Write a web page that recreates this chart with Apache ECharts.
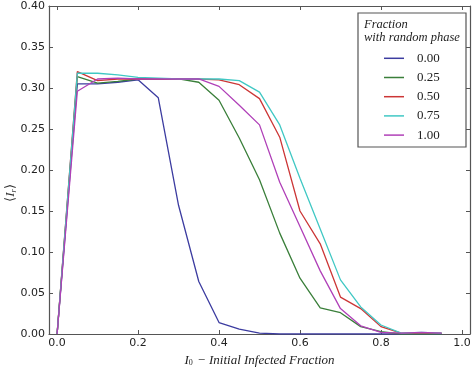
<!DOCTYPE html>
<html><head><meta charset="utf-8">
<script src="https://cdn.jsdelivr.net/npm/echarts@6/dist/echarts.min.js"></script>
<style>html,body{margin:0;padding:0;background:#fff}#c{width:474px;height:369px}</style>
</head><body><div id="c"></div>
<script>
const xValues = [0,0.05,0.1,0.15,0.2,0.25,0.3,0.35,0.4,0.45,0.5,0.55,0.6,0.65,0.7,0.75,0.8,0.85,0.9,0.95];
const seriesNames = ['0.00','0.25','0.50','0.75','1.00'];
const s000 = [0,0.305,0.305,0.307,0.310,0.288,0.157,0.064,0.014,0.006,0.001,0,0,0,0,0,0,0,0,0];
const s025 = [0,0.314,0.306,0.308,0.311,0.311,0.311,0.307,0.285,0.239,0.188,0.123,0.068,0.032,0.026,0.009,0.003,0,0,0];
const s050 = [0,0.320,0.309,0.311,0.311,0.311,0.311,0.311,0.310,0.304,0.287,0.240,0.150,0.110,0.045,0.031,0.009,0.001,0.001,0.001];
const s075 = [0,0.318,0.318,0.316,0.313,0.312,0.311,0.311,0.311,0.309,0.295,0.255,0.190,0.128,0.066,0.033,0.011,0.001,0.002,0.001];
const s100 = [0,0.296,0.311,0.312,0.311,0.311,0.311,0.311,0.302,0.279,0.255,0.185,0.131,0.077,0.031,0.010,0.002,0.001,0.002,0.001];
const xTicks = [0,0.2,0.4,0.6,0.8,1.0];
const yTickInterval = 0.05;
const colors = ['#3c3ca0','#3a7f3a','#cc3636','#40c8c4','#b040b8'];
const allSeries = [s000,s025,s050,s075,s100];

const chart = echarts.init(document.getElementById('c'));
const axisCol = '#555';
const baseX = {type:'value', min:-0.02, max:1.02, gridIndex:0,
  axisLine:{show:true,onZero:false,lineStyle:{color:axisCol,width:1.2}},
  splitLine:{show:false},
  axisTick:{inside:true,length:4,customValues:xTicks,lineStyle:{color:axisCol}},
};
const baseY = {type:'value', min:0, max:0.4, interval:yTickInterval,
  axisLine:{show:true,onZero:false,lineStyle:{color:axisCol,width:1.2}},
  splitLine:{show:false},
  axisTick:{inside:true,length:4,lineStyle:{color:axisCol}},
};
chart.setOption({
  animation:false,
  backgroundColor:'#fff',
  grid:{left:49,right:4,top:6,bottom:35,containLabel:false,outerBoundsMode:'none'},
  xAxis:[
    Object.assign({}, baseX, {position:'bottom',
      axisLabel:{customValues:xTicks,color:'#222',fontFamily:'DejaVu Sans',fontSize:11,margin:4,
        formatter:v=>v.toFixed(1)},
      name:'{a|I}{b|0}{a| − Initial Infected Fraction}', nameLocation:'middle', nameGap:18,
      nameTextStyle:{rich:{
        a:{fontFamily:'Liberation Serif',fontStyle:'italic',fontSize:13,color:'#222'},
        b:{fontFamily:'Liberation Serif',fontSize:8,color:'#222',verticalAlign:'bottom',padding:[6,1,0,0]}
      }}
    }),
    Object.assign({}, baseX, {position:'top', axisLabel:{show:false}})
  ],
  yAxis:[
    Object.assign({}, baseY, {position:'left',
      axisLabel:{color:'#222',fontFamily:'DejaVu Sans',fontSize:11,margin:4,formatter:v=>v.toFixed(2)}
    }),
    Object.assign({}, baseY, {position:'right', axisLabel:{show:false}})
  ],
  legend:{
    orient:'vertical', left:384, top:48.7, padding:0, icon:'rect', itemWidth:20, itemHeight:1.5, itemGap:0,
    data:seriesNames,
    textStyle:{fontFamily:'Liberation Serif',fontSize:13,color:'#222',lineHeight:19.2,padding:[0,0,0,8]}
  },
  graphic:[
    {type:'rect',shape:{x:358,y:13,width:108,height:134},style:{fill:'#fff',stroke:'#555',lineWidth:1.2},z:-1,zlevel:0},
    {type:'text',left:364,top:18,style:{text:'Fraction',font:'italic 12.5px "Liberation Serif"',fill:'#222'}},
    {type:'text',left:364,top:31,style:{text:'with random phase',font:'italic 12.5px "Liberation Serif"',fill:'#222'}},
    {type:'text',x:11,y:193,rotation:Math.PI/2,style:{
      text:'⟨{a|I}{b|r}⟩', align:'center', verticalAlign:'middle',
      font:'13px "Liberation Serif"', fill:'#333',
      rich:{
        a:{fontFamily:'Liberation Serif',fontStyle:'italic',fontSize:13,fill:'#333'},
        b:{fontFamily:'Liberation Serif',fontStyle:'italic',fontSize:8,fill:'#333',verticalAlign:'bottom',padding:[6,0,0,0]}
      }}}
  ],
  series: allSeries.map((d,i)=>({
    name:seriesNames[i], type:'line', symbol:'none', xAxisIndex:0, yAxisIndex:0,
    color:colors[i], lineStyle:{width:1.3,color:colors[i]},
    data:xValues.map((x,j)=>[x,d[j]])
  }))
});
</script></body></html>
